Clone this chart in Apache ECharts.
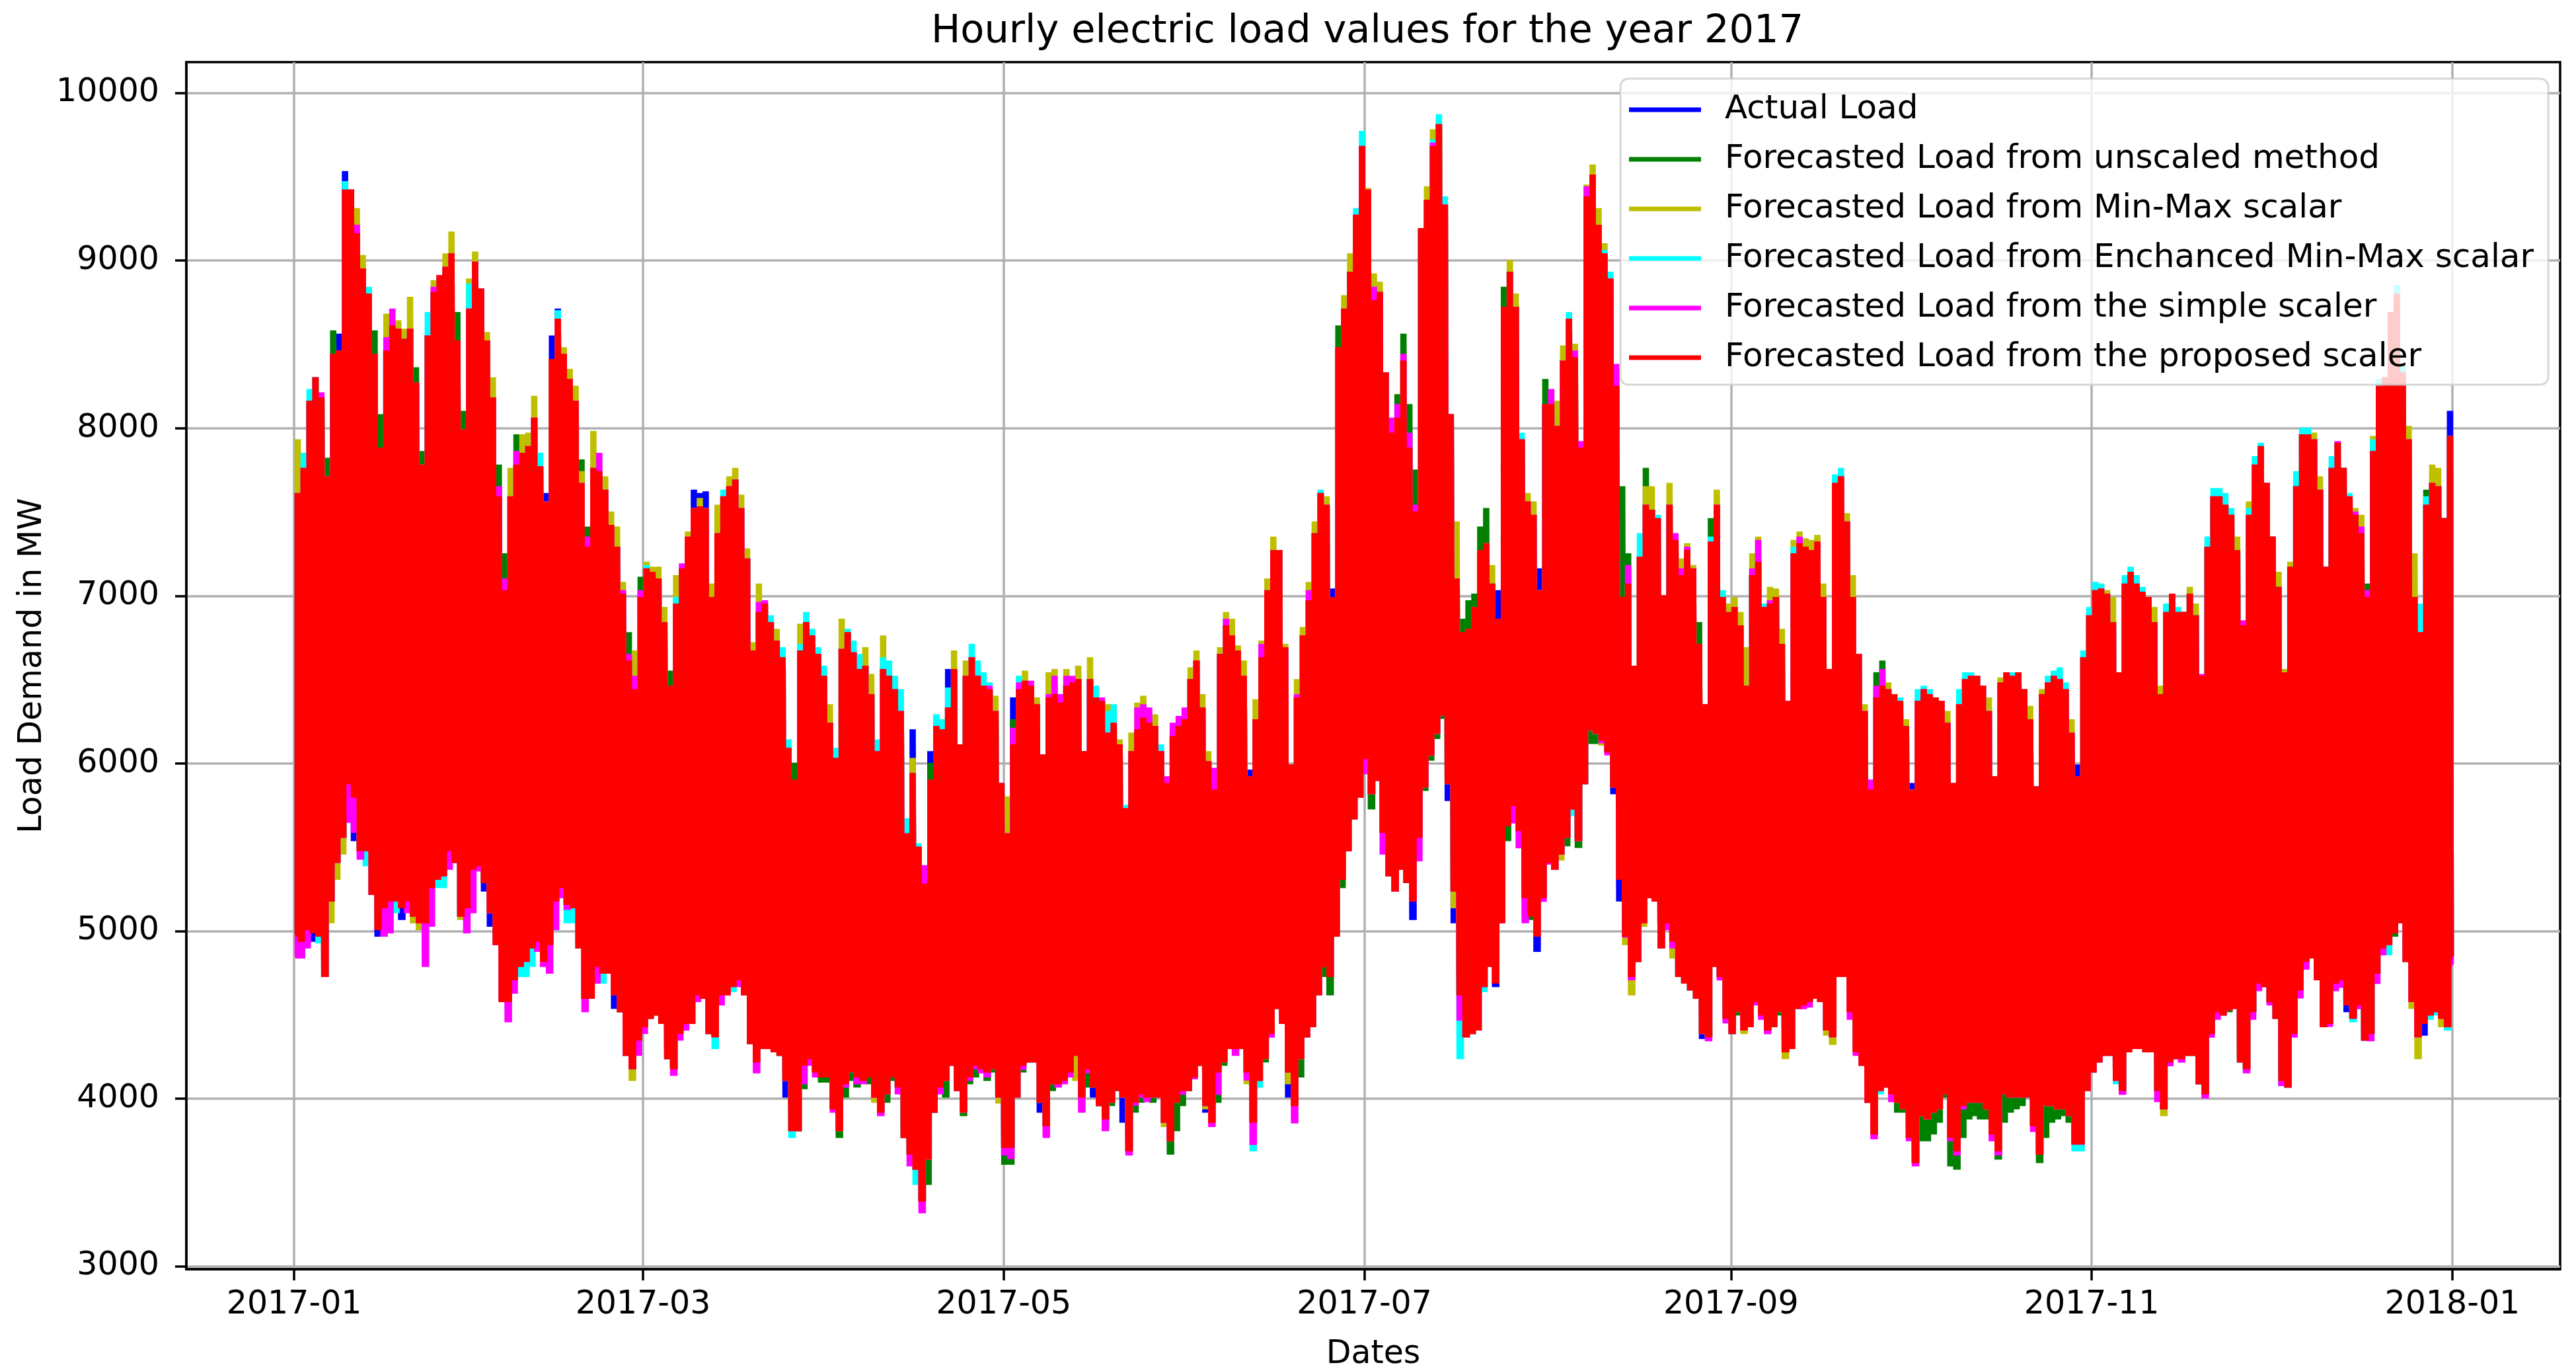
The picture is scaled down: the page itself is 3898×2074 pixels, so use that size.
<!DOCTYPE html>
<html>
<head>
<meta charset="utf-8">
<script src="https://cdn.jsdelivr.net/npm/echarts@6/dist/echarts.min.js"></script>
<style>
html,body{margin:0;padding:0;background:#fff;}
#chart{width:3898px;height:2074px;}
</style>
</head>
<body>
<div id="chart"></div>
<script>
// ---------------- DATA ----------------
const titleText = 'Hourly electric load values for the year 2017';
const yearStart = '2017-01-01';
const xTickDates = ['2017-01-01','2017-03-01','2017-05-01','2017-07-01','2017-09-01','2017-11-01','2018-01-01'];
const yTicks = [3000,4000,5000,6000,7000,8000,9000,10000];
const seriesNames = ['Actual Load','Forecasted Load from unscaled method','Forecasted Load from Min-Max scalar','Forecasted Load from Enchanced Min-Max scalar','Forecasted Load from the simple scaler','Forecasted Load from the proposed scaler'];

// Daily evening peak of the proposed-scaler series (MW), day 0 = 2017-01-01
const dailyPeak = [
7600,7750,8150,8290,8170,7700,8430,8450,9410,9410,
9150,8940,8790,8430,7870,8450,8600,8580,8520,8580,
8260,7770,8540,8800,8900,8950,9030,8510,7980,8700,
8980,8820,8510,8170,7580,7020,7580,7770,7840,7880,
8050,7760,7550,8400,8640,8430,8280,8150,7660,7280,
7750,7730,7620,7410,7280,7000,6600,6430,6980,7150,
7130,7090,6830,6450,6940,7150,7340,7510,7520,7510,
6980,7360,7580,7640,7680,7510,7210,6660,6890,6940,
6830,6720,6620,6080,5890,6660,6830,6750,6640,6510,
6230,6020,6670,6770,6650,6550,6570,6400,6060,6550,
6510,6430,6300,5570,5930,5490,5270,5890,6210,6190,
6320,6550,6100,6510,6620,6510,6450,6430,6300,5870,
5570,6100,6430,6480,6450,6340,6040,6380,6400,6350,
6450,6470,6490,6060,6490,6380,6360,6170,6230,6100,
5720,6060,6190,6260,6230,6210,6060,5870,6150,6210,
6250,6490,6600,6320,6000,5830,6640,6810,6750,6660,
6510,5910,6250,6620,7020,7260,7260,6680,5980,6380,
6750,6960,7360,7600,7530,6980,8470,8700,8920,9260,
9670,9410,8750,8800,8320,7960,8050,8390,7870,7490,
9180,9350,9670,9800,9320,8070,7090,6770,6790,6920,
7260,7300,7060,6850,8710,8920,8710,7920,7550,7470,
7020,8130,8130,8000,8390,8640,8410,7870,9370,9500,
9200,9030,8880,8240,6980,7060,6570,7220,7530,7500,
7450,6990,7530,7320,7110,7260,7150,6700,6340,7310,
7530,6980,6890,6920,6810,6450,7110,7190,6920,6940,
6980,6700,6360,7240,7300,7280,7260,7310,6980,6550,
7660,7700,7430,6980,6640,6300,5830,6380,6450,6430,
6400,6360,6210,5830,6360,6430,6400,6380,6360,6230,
5870,6340,6490,6510,6510,6450,6300,5910,6470,6530,
6510,6530,6430,6250,5850,6400,6470,6510,6490,6430,
6170,5910,6620,6870,7020,7030,7000,6830,6530,7060,
7130,7060,7010,6980,6830,6400,6890,7000,6890,6890,
7000,6870,6510,7280,7580,7580,7530,7470,7260,6810,
7470,7770,7880,7660,7340,7040,6530,7160,7640,7950,
7950,7920,7620,7160,7750,7900,7750,7580,7470,7360,
6980,7850,8240,8290,8680,8790,8320,7920,6980,6770,
7530,7660,7640,7450,7940
];

// Daily early-morning trough of the proposed-scaler series (MW)
const dailyTrough = [
4980,4950,5020,5000,4980,4740,5190,5420,5570,5890,
5810,5490,5490,5230,5020,5150,5190,5190,5150,5190,
5100,5060,5060,5270,5320,5340,5490,5420,5100,5150,
5380,5400,5300,5120,4930,4590,4590,4720,4800,4830,
4910,4950,4830,4930,5190,5270,5170,5150,4910,4610,
4610,4800,4760,4760,4630,4530,4270,4190,4360,4440,
4490,4510,4460,4250,4190,4400,4460,4460,4630,4610,
4400,4380,4630,4630,4680,4720,4630,4340,4230,4310,
4310,4290,4270,4120,3820,3820,4210,4250,4170,4140,
4140,3950,3820,4100,4170,4140,4120,4140,4020,3930,
4040,4140,4080,3780,3680,3590,3400,3650,3930,4080,
4120,4210,4060,3930,4140,4210,4190,4170,4190,4020,
3720,3720,4020,4210,4230,4230,3990,3850,4100,4100,
4120,4170,4270,4020,4190,4080,3970,3890,3990,4060,
4020,3700,3990,4040,4020,4020,4020,3870,3760,3990,
4060,4060,4140,4210,3970,3870,4170,4230,4310,4310,
4310,4170,3870,4120,4250,4400,4550,4460,4170,3970,
4250,4380,4440,4630,4800,4740,4980,5320,5490,5680,
5810,6040,5830,5910,5600,5340,5250,5380,5300,5190,
5570,5870,6060,6190,6300,5890,5250,4630,4380,4400,
4420,4680,4800,4700,5060,5640,5760,5610,5210,5100,
4980,5210,5420,5380,5470,5570,5740,5550,5890,6210,
6190,6150,6080,5870,5320,4980,4740,4830,5060,5210,
5190,4910,5060,4950,4740,4700,4660,4610,4400,4380,
4800,4740,4490,4400,4530,4420,4440,4590,4510,4420,
4440,4530,4290,4310,4550,4570,4590,4610,4590,4420,
4380,4740,4740,4530,4290,4210,3990,3800,4060,4080,
4040,3990,3950,3780,3630,3910,3890,3930,3950,4040,
3780,3700,3970,3990,3990,3990,3950,3800,3700,4040,
4020,4020,4020,4020,3850,3680,3970,3970,3950,3950,
3910,3740,3740,4060,4170,4230,4270,4270,4120,4060,
4290,4310,4310,4290,4290,4060,3950,4230,4250,4250,
4270,4270,4100,4040,4400,4530,4510,4540,4550,4230,
4190,4530,4700,4680,4590,4490,4120,4080,4400,4660,
4830,4850,4720,4440,4460,4700,4720,4570,4490,4570,
4360,4400,4760,4910,4930,5000,5060,4830,4590,4380,
4460,4510,4530,4490,4440
];

// Last reading at 2018-01-01 00:00 for each series (same order as seriesNames)
const lastHourLoad = [4850,4850,4850,4850,4800,4850];

// Where another series differs visibly from the proposed series: [day, MW]
// (elsewhere it lies under the red line)
const actualPeaks = [[7,8550],[8,9520],[42,7600],[43,8540],[44,8700],[67,7620],[68,7600],[69,7610],[104,6190],[107,6060],[110,6550],[121,6380],[161,5950],[175,7030],[203,7020],[210,7150],[273,5870],[301,5980],[364,8090]];
const actualTroughs = [[1,4850],[3,4950],[10,5550],[14,4980],[18,5080],[32,5250],[33,5040],[54,4550],[83,4020],[126,3930],[135,4020],[140,3870],[154,3930],[168,4020],[189,5080],[195,5790],[196,5060],[203,4680],[210,4890],[223,5830],[224,5190],[238,4370],[336,4090],[347,4530],[360,4390]];

const unscaledPeaks = [[5,7810],[6,8570],[13,8570],[14,8070],[20,8350],[21,7850],[27,8680],[28,8090],[34,7770],[35,7240],[37,7950],[48,7800],[49,7400],[56,6770],[58,7100],[63,6540],[84,5990],[107,5990],[121,6250],[148,6190],[176,8600],[186,8190],[187,8550],[188,8130],[189,7740],[197,6850],[198,6960],[199,7000],[200,7400],[201,7510],[204,8830],[211,8280],[224,7640],[225,7240],[228,7750],[237,6830],[239,7450],[267,6530],[268,6600],[350,7060],[360,7620]];
const unscaledTroughs = [[86,4070],[87,4230],[89,4110],[90,4110],[92,3780],[93,4020],[94,4120],[95,4080],[97,4100],[100,3990],[101,4120],[107,3500],[110,4020],[113,3910],[114,4100],[115,4140],[117,4120],[118,4170],[120,3620],[121,3620],[123,4170],[128,4060],[134,4080],[138,3970],[142,3930],[143,3990],[145,3990],[148,3680],[149,3820],[150,3970],[156,3990],[157,4210],[163,4080],[164,4230],[170,4140],[174,4740],[175,4630],[177,5270],[182,5740],[191,5850],[192,6030],[193,6160],[194,6280],[205,5550],[209,5080],[215,5520],[217,5510],[219,6130],[220,6130],[244,4510],[251,4510],[271,3930],[272,3930],[275,3760],[276,3760],[277,3800],[278,3870],[279,4020],[280,3610],[281,3590],[282,3780],[283,3890],[284,3910],[285,3890],[286,3890],[288,3650],[289,3870],[290,3930],[291,3950],[292,3970],[295,3630],[296,3780],[297,3870],[298,3890],[299,3910],[300,3870],[327,4530],[355,4980]];

const minMaxPeaks = [[0,7920],[10,9300],[11,9020],[12,8820],[15,8670],[17,8630],[18,8580],[19,8770],[23,8870],[25,9030],[26,9160],[29,8880],[30,9040],[32,8560],[33,8290],[36,7750],[38,7950],[39,7960],[40,8180],[45,8470],[46,8340],[47,8240],[48,7730],[50,7970],[52,7700],[53,7490],[54,7400],[55,7070],[57,6660],[59,7190],[60,7160],[61,7160],[62,6920],[64,7110],[66,7370],[68,7570],[70,7060],[71,7530],[73,7700],[74,7750],[75,7590],[76,7270],[77,6710],[78,7060],[81,6790],[85,6820],[90,6340],[92,6850],[96,6680],[97,6520],[99,6750],[104,6020],[111,6660],[113,6600],[118,6390],[120,5790],[123,6540],[125,6380],[127,6530],[128,6550],[130,6550],[132,6570],[134,6620],[137,6340],[139,6130],[141,6170],[142,6350],[143,6390],[145,6280],[151,6560],[152,6660],[153,6400],[154,6060],[156,6680],[157,6890],[158,6850],[159,6690],[160,6600],[162,6370],[163,6720],[164,7090],[165,7340],[167,6700],[169,6490],[170,6800],[171,7070],[172,7430],[174,7580],[177,8780],[178,9030],[181,9420],[182,8910],[183,8860],[191,9430],[192,9770],[196,7430],[202,7170],[205,8990],[206,8790],[208,7600],[209,7550],[213,8150],[214,8480],[216,8490],[218,9440],[219,9560],[220,9300],[221,9090],[228,7640],[229,7640],[232,7660],[234,7210],[235,7300],[236,7170],[240,7620],[242,6940],[243,6980],[244,6890],[245,6680],[246,7240],[247,7340],[249,7040],[250,7030],[251,6790],[253,7320],[254,7370],[255,7330],[256,7320],[257,7350],[258,7060],[262,7480],[263,7110],[265,6340],[269,6470],[272,6250],[279,6300],[286,6380],[288,6500],[293,6330],[295,6430],[300,6250],[306,7020],[307,6980],[314,6920],[315,6450],[320,7040],[321,6940],[328,7340],[329,6840],[330,7550],[335,7130],[336,6550],[337,7190],[341,7960],[342,7700],[348,7510],[349,7470],[351,7940],[357,8000],[358,7240],[361,7770],[362,7750]];
const minMaxTroughs = [[6,5060],[7,5320],[8,5470],[20,5060],[21,5020],[28,5080],[57,4120],[98,3990],[119,3985],[132,4120],[147,3845],[154,3950],[161,4100],[168,4100],[196,5150],[214,5435],[221,6120],[225,4930],[226,4630],[228,5040],[233,4850],[245,4400],[252,4250],[259,4390],[260,4335],[316,3910],[317,4207],[358,4550],[359,4250],[363,4440]];

const enhancedPeaks = [[1,7840],[2,8220],[8,9460],[12,8830],[22,8680],[29,8850],[41,7840],[44,8690],[59,7170],[64,6980],[72,7620],[80,6870],[82,6680],[83,6130],[85,6700],[86,6890],[87,6790],[88,6680],[89,6570],[91,6080],[93,6790],[94,6720],[95,6640],[98,6130],[99,6620],[100,6600],[101,6510],[102,6430],[103,5660],[105,5510],[108,6280],[109,6250],[110,6440],[114,6700],[115,6600],[116,6530],[117,6470],[122,6510],[135,6450],[137,6300],[138,6340],[140,5740],[146,6100],[173,7620],[179,9300],[180,9760],[192,9710],[193,9860],[194,9370],[207,7960],[215,8680],[221,9050],[222,8920],[227,7360],[230,7470],[239,7340],[241,7020],[248,6940],[253,7280],[260,7710],[261,7750],[271,6380],[274,6430],[275,6450],[276,6430],[281,6430],[282,6530],[283,6530],[290,6530],[296,6510],[297,6540],[298,6560],[299,6470],[302,6660],[303,6920],[304,7070],[305,7060],[309,7110],[310,7160],[311,7110],[312,7040],[316,6940],[318,6920],[323,7340],[324,7630],[325,7630],[326,7600],[327,7510],[330,7510],[331,7820],[332,7900],[338,7730],[339,7990],[340,7990],[344,7820],[347,7600],[351,7920],[352,8280],[355,8840],[356,8370],[359,6940],[360,7580]];
const enhancedTroughs = [[4,4940],[12,5400],[17,5120],[24,5270],[25,5270],[38,4740],[39,4740],[40,4800],[46,5060],[47,5060],[52,4700],[71,4310],[74,4650],[84,3780],[105,3500],[162,3700],[163,4080],[197,4250],[201,4650],[216,5700],[268,4040],[301,3700],[302,3700],[308,4100],[348,4470],[354,4870],[361,4485],[362,4510],[364,4420]];

const simplePeaks = [[4,8200],[10,9200],[15,8530],[16,8700],[23,8830],[34,7640],[35,7090],[37,7850],[49,7340],[51,7840],[55,7020],[56,6640],[57,6510],[58,7020],[65,7180],[78,6950],[79,6960],[106,5380],[117,6450],[121,6200],[122,6470],[124,6480],[127,6400],[128,6510],[129,6400],[130,6510],[131,6510],[136,6380],[142,6320],[143,6340],[144,6320],[147,5910],[148,6230],[149,6270],[150,6320],[155,5960],[157,6850],[163,6700],[169,6400],[171,7020],[182,8830],[185,8050],[186,8130],[187,8430],[188,7960],[189,7530],[192,9690],[212,8220],[216,8450],[217,7910],[218,9430],[223,8370],[225,7170],[233,7360],[234,7150],[235,7280],[246,7150],[247,7320],[249,6960],[254,7340],[266,5890],[267,6450],[268,6550],[322,6520],[329,6840],[345,7910],[348,7490],[349,7400],[350,7020]];
const simpleTroughs = [[0,4850],[1,4850],[2,4910],[9,5660],[10,5600],[11,5440],[15,4980],[16,5000],[19,5120],[22,4800],[23,5040],[26,5380],[29,5000],[30,5120],[31,5370],[36,4470],[37,4640],[41,4890],[42,4800],[43,4760],[44,5020],[45,5210],[46,5140],[49,4530],[51,4700],[58,4270],[59,4400],[64,4150],[65,4360],[66,4420],[68,4590],[72,4570],[75,4680],[78,4165],[86,4100],[87,4210],[88,4140],[91,3930],[93,4080],[95,4100],[96,4100],[99,3910],[102,4040],[104,3610],[106,3330],[109,4040],[114,4120],[115,4190],[116,4165],[117,4140],[120,3675],[121,3653],[123,4186],[127,3780],[129,4080],[130,4100],[131,4140],[133,3930],[134,4165],[137,3820],[141,3675],[142,3973],[143,4020],[144,3994],[150,4037],[152,4130],[155,3845],[156,4037],[159,4270],[161,4122],[162,3738],[165,4378],[169,3866],[181,5950],[184,5470],[190,5430],[197,4480],[206,5657],[207,5508],[208,5060],[211,5188],[212,5410],[221,6134],[222,6062],[225,4975],[226,4720],[232,5020],[233,4910],[239,4356],[241,4719],[242,4463],[247,4570],[248,4485],[249,4399],[255,4548],[256,4557],[263,4485],[264,4270],[267,3772],[270,3994],[273,3760],[274,3610],[280,3760],[281,3675],[282,3950],[287,3760],[288,3675],[294,3815],[309,4037],[315,3994],[317,4207],[319,4229],[323,4015],[324,4378],[325,4485],[330,4165],[331,4485],[332,4655],[334,4570],[336,4090],[338,4378],[339,4612],[340,4783],[344,4442],[345,4655],[346,4676],[349,4548],[351,4356],[352,4698],[353,4869]];

// ---------------- BUILD ----------------
const DAY_MS = 86400000, HOUR_MS = 3600000;
const T0 = Date.parse(yearStart + 'T00:00:00Z');
const TROUGH_HOUR = 4, PEAK_HOUR = 18;
const seriesColors = ['#0000ff','#008000','#bfbf00','#00ffff','#ff00ff','#ff0000'];
const FONT = "'DejaVu Sans', 'Liberation Sans', sans-serif";

function buildLoad(peakOverrides, troughOverrides, lastValue) {
  const top = dailyPeak.slice(), bottom = dailyTrough.slice();
  peakOverrides.forEach(function (p) { top[p[0]] = p[1]; });
  troughOverrides.forEach(function (p) { bottom[p[0]] = p[1]; });
  const out = [];
  for (let d = 0; d < top.length; d++) {
    out.push([T0 + d * DAY_MS + TROUGH_HOUR * HOUR_MS, bottom[d]]);
    out.push([T0 + d * DAY_MS + PEAK_HOUR * HOUR_MS, top[d]]);
  }
  out.push([T0 + top.length * DAY_MS, lastValue]);
  return out;
}

const seriesData = [
  buildLoad(actualPeaks, actualTroughs, lastHourLoad[0]),
  buildLoad(unscaledPeaks, unscaledTroughs, lastHourLoad[1]),
  buildLoad(minMaxPeaks, minMaxTroughs, lastHourLoad[2]),
  buildLoad(enhancedPeaks, enhancedTroughs, lastHourLoad[3]),
  buildLoad(simplePeaks, simpleTroughs, lastHourLoad[4]),
  buildLoad([], [], lastHourLoad[5])
];

const xTickValues = xTickDates.map(function (s) { return Date.parse(s + 'T00:00:00Z'); });
const xMin = T0 - 18.23 * DAY_MS;
const xMax = T0 + 383.23 * DAY_MS;

function fmtMonth(v) {
  const dt = new Date(v);
  return dt.getUTCFullYear() + '-' + String(dt.getUTCMonth() + 1).padStart(2, '0');
}

const chart = echarts.init(document.getElementById('chart'), null, {renderer: 'canvas'});
chart.setOption({
  animation: false,
  backgroundColor: '#ffffff',
  title: {
    text: titleText,
    left: 2064, top: 14, textAlign: 'center',
    textStyle: {fontFamily: FONT, fontSize: 59, fontWeight: 'normal', color: '#000'}
  },
  legend: {
    orient: 'vertical', left: 2452, top: 119,
    padding: [22, 22, 16, 13],
    itemWidth: 109, itemHeight: 7, itemGap: 25,
    icon: 'rect',
    backgroundColor: 'rgba(255,255,255,0.8)',
    borderColor: 'rgba(204,204,204,0.8)', borderWidth: 3, borderRadius: 12,
    textStyle: {fontFamily: FONT, fontSize: 50, lineHeight: 49, color: '#000', padding: [0, 0, 0, 31]},
    data: seriesNames,
    z: 20
  },
  grid: {left: 282, right: 24, top: 94, bottom: 154, containLabel: false, outerBoundsMode: 'none',
         show: true, borderColor: '#000', borderWidth: 3.5, backgroundColor: 'transparent'},
  xAxis: {
    type: 'value', min: xMin, max: xMax,
    name: 'Dates', nameLocation: 'middle', nameGap: 105,
    nameTextStyle: {fontFamily: FONT, fontSize: 49, color: '#000'},
    axisLine: {show: true, onZero: false, lineStyle: {color: '#000', width: 3.5}},
    axisTick: {show: true, length: 17, lineStyle: {color: '#000', width: 3.5}, customValues: xTickValues},
    axisLabel: {show: true, margin: 30, fontFamily: FONT, fontSize: 49, color: '#000',
                customValues: xTickValues, formatter: fmtMonth, hideOverlap: false},
    splitLine: {show: true, lineStyle: {color: '#b0b0b0', width: 3.5}}
  },
  yAxis: {
    type: 'value', min: 2983, max: 10184,
    name: 'Load Demand in MW', nameLocation: 'middle', nameGap: 207,
    nameTextStyle: {fontFamily: FONT, fontSize: 49, color: '#000'},
    axisLine: {show: true, onZero: false, lineStyle: {color: '#000', width: 3.5}},
    axisTick: {show: true, length: 17, lineStyle: {color: '#000', width: 3.5}, customValues: yTicks},
    axisLabel: {show: true, margin: 41, fontFamily: FONT, fontSize: 49, color: '#000',
                customValues: yTicks, hideOverlap: false,
                formatter: function (v) { return String(v); }},
    splitLine: {show: true, lineStyle: {color: '#b0b0b0', width: 3.5}}
  },
  series: seriesNames.map(function (name, i) {
    return {
      name: name, type: 'line', data: seriesData[i], step: 'middle',
      showSymbol: false, symbol: 'none', sampling: false, silent: true,
      clip: true, z: 2,
      itemStyle: {color: seriesColors[i]},
      lineStyle: {color: seriesColors[i], width: 7, join: 'miter', cap: 'butt'},
      emphasis: {disabled: true}
    };
  })
});
</script>
</body>
</html>
